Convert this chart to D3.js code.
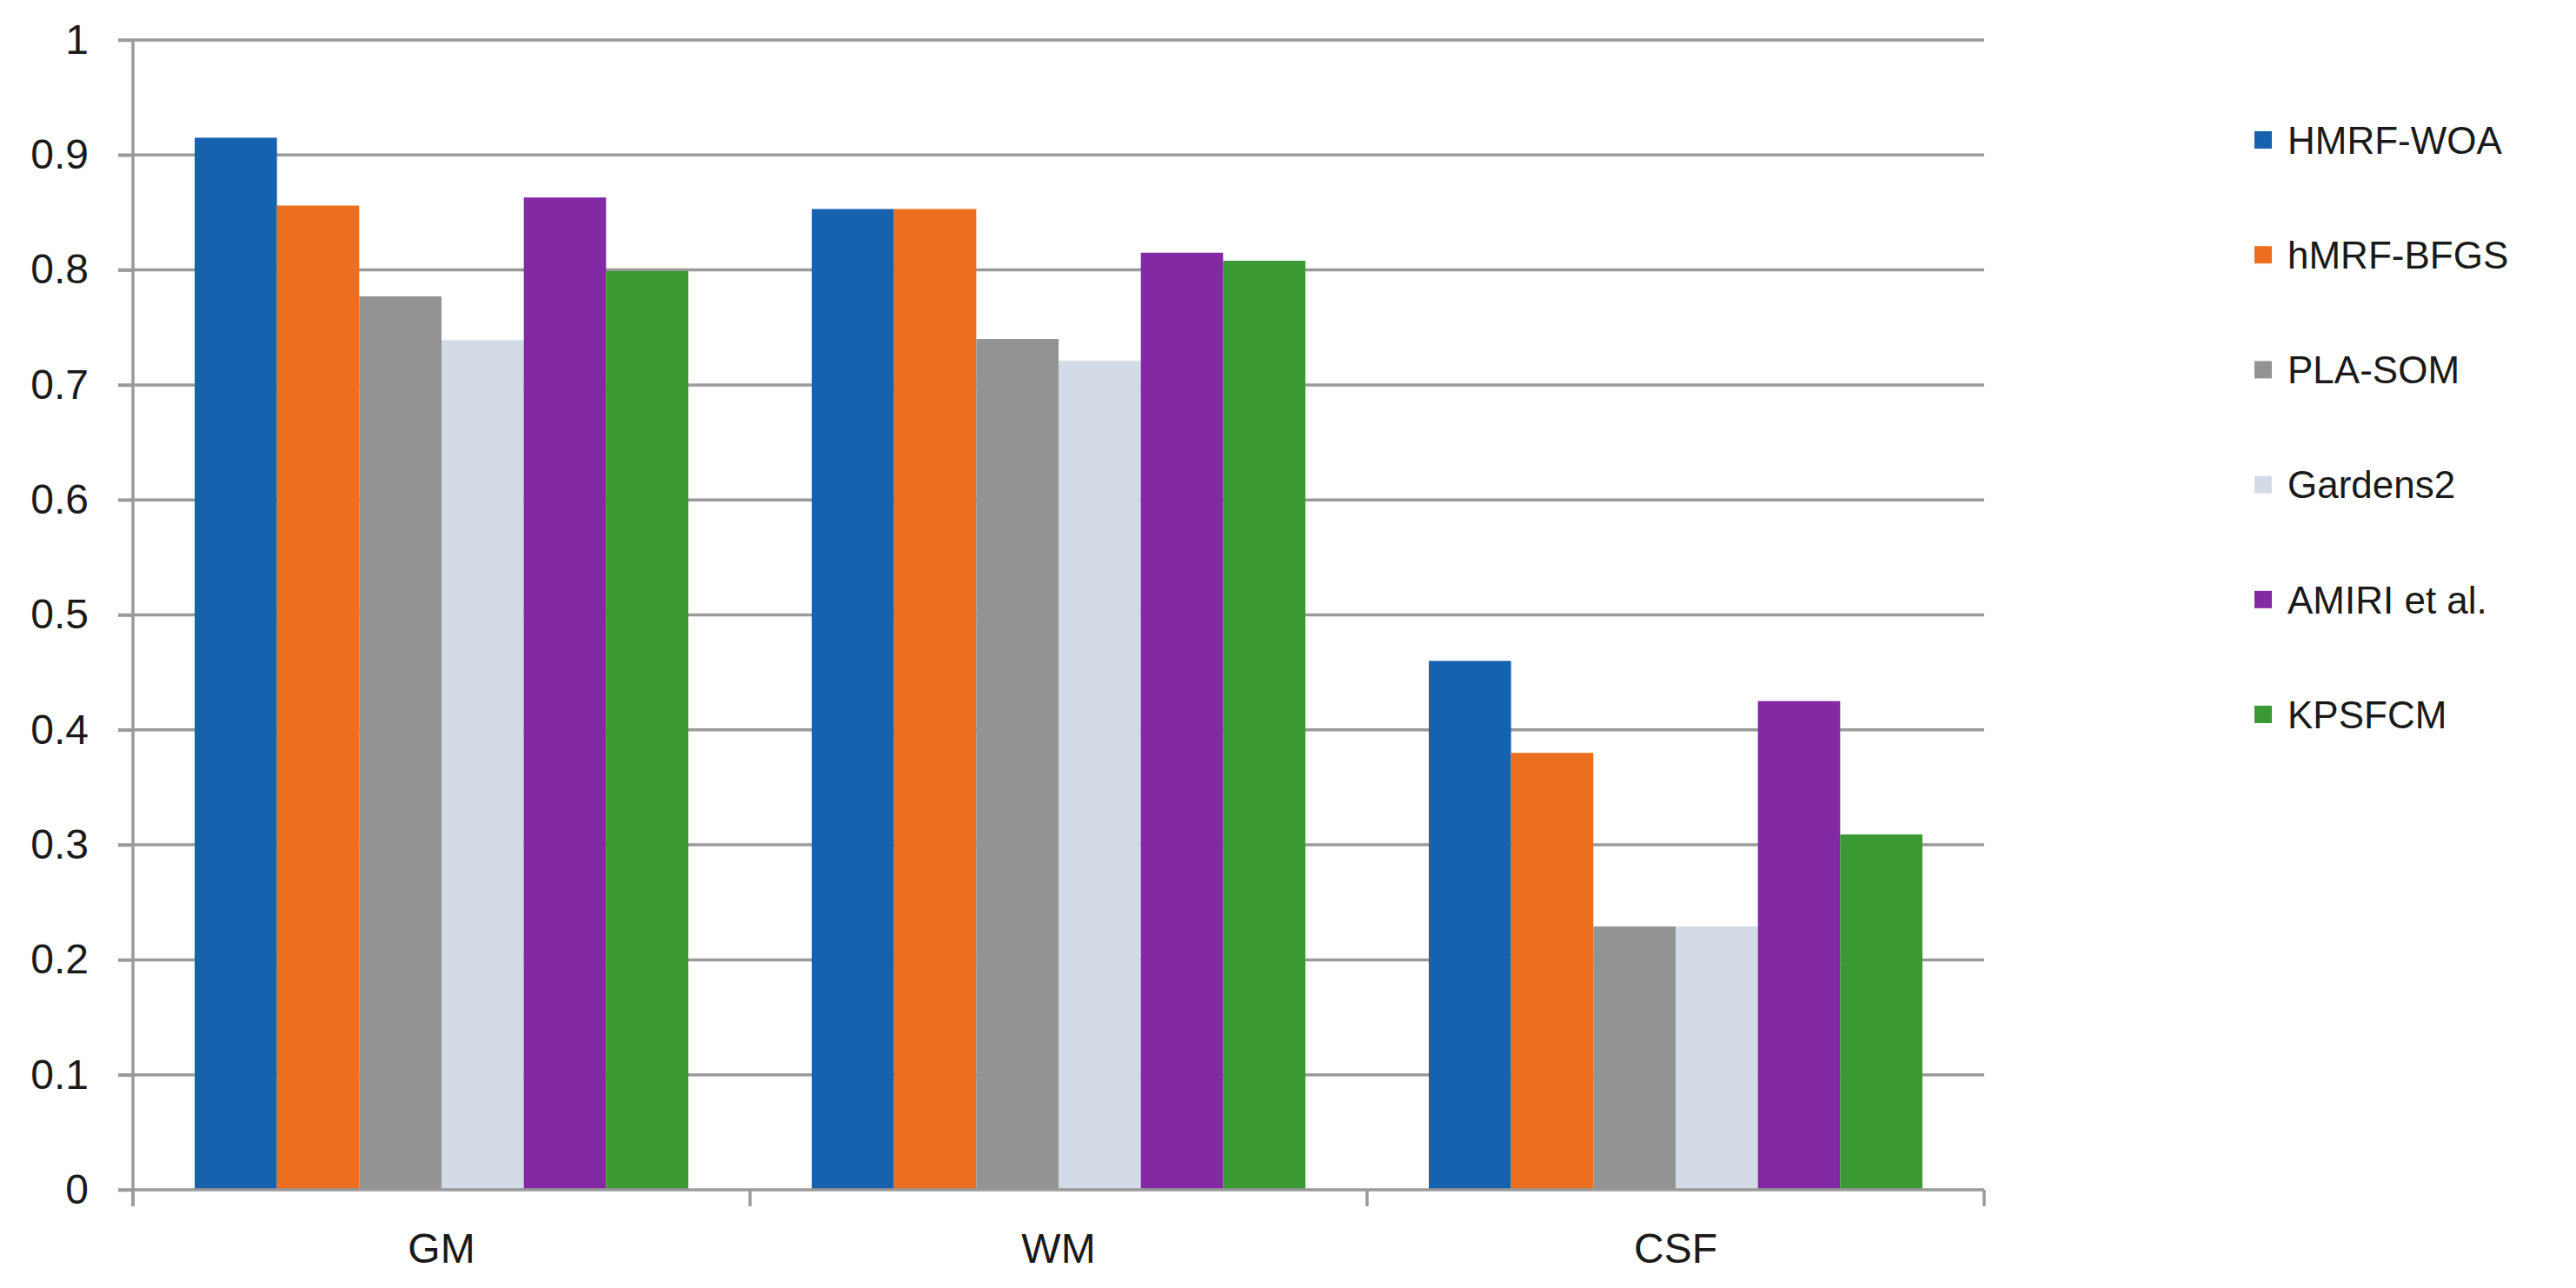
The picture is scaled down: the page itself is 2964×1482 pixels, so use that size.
<!DOCTYPE html>
<html>
<head>
<meta charset="utf-8">
<script src="https://cdn.jsdelivr.net/npm/d3@7"></script>
<style>
  html, body { margin: 0; padding: 0; background: #fff; }
  svg { display: block; }
  text { font-family: "Liberation Sans", Arial, sans-serif; fill: #1a1a1a; }
</style>
</head>
<body>
<svg id="chart" width="2964" height="1482"></svg>
<script>
const categories = ["GM", "WM", "CSF"];
const seriesNames = ["HMRF-WOA", "hMRF-BFGS", "PLA-SOM", "Gardens2", "AMIRI et al.", "KPSFCM"];
const seriesColors = ["#1762AE", "#EC6F1F", "#939393", "#D3DCE6", "#8229A3", "#3A9932"];
const hmrfWoa  = [0.915, 0.853, 0.46];
const hmrfBfgs = [0.856, 0.853, 0.38];
const plaSom   = [0.777, 0.74, 0.229];
const gardens2 = [0.739, 0.721, 0.229];
const amiri    = [0.863, 0.815, 0.425];
const kpsfcm   = [0.799, 0.808, 0.309];
const seriesValues = [hmrfWoa, hmrfBfgs, plaSom, gardens2, amiri, kpsfcm];
const yTicks = [0, 0.1, 0.2, 0.3, 0.4, 0.5, 0.6, 0.7, 0.8, 0.9, 1];

const svg = d3.select("#chart");
const pLeft = 153, pRight = 2283, pTop = 46, pBottom = 1369;
const gridColor = "#9a9a9a";

const x0 = d3.scaleBand().domain(categories).range([pLeft, pRight]).padding(0);
const x1 = d3.scaleBand().domain(seriesNames).range([0, x0.bandwidth()])
  .paddingInner(0).paddingOuter(0.75);
const y = d3.scaleLinear().domain([0, 1]).range([pBottom, pTop]);

// gridlines
svg.append("g").selectAll("line").data(yTicks.filter(d => d > 0)).join("line")
  .attr("x1", pLeft - 17).attr("x2", pRight)
  .attr("y1", d => y(d)).attr("y2", d => y(d))
  .attr("stroke", gridColor).attr("stroke-width", 3.5);

// bars
const data = [];
categories.forEach((c, ci) => {
  seriesNames.forEach((s, si) => {
    data.push({ cat: c, ser: s, v: seriesValues[si][ci], color: seriesColors[si] });
  });
});
svg.append("g").selectAll("rect").data(data).join("rect")
  .attr("x", d => x0(d.cat) + x1(d.ser))
  .attr("width", x1.bandwidth())
  .attr("y", d => y(d.v))
  .attr("height", d => y(0) - y(d.v))
  .attr("fill", d => d.color);

// y axis
const yAxis = d3.axisLeft(y).tickValues(yTicks).tickSize(17).tickPadding(34)
  .tickFormat(d => d3.format("~g")(d));
const gy = svg.append("g").attr("transform", `translate(${pLeft},0)`).call(yAxis);
gy.select(".domain").attr("stroke", gridColor).attr("stroke-width", 3.5)
  .attr("d", `M0,${pTop}V${pBottom + 19}`);
gy.selectAll(".tick line").attr("stroke", gridColor).attr("stroke-width", 3.5);
gy.selectAll(".tick text").attr("font-size", 48).attr("fill", "#1a1a1a")
  .attr("font-family", "Liberation Sans, Arial, sans-serif");

// x axis
const xAxis = d3.axisBottom(x0).tickSize(0).tickPadding(50);
const gx = svg.append("g").attr("transform", `translate(0,${pBottom})`).call(xAxis);
gx.select(".domain").attr("stroke", gridColor).attr("stroke-width", 3.5)
  .attr("d", `M${pLeft - 17},0H${pRight}`);
gx.selectAll(".tick text").attr("font-size", 48).attr("fill", "#1a1a1a")
  .attr("font-family", "Liberation Sans, Arial, sans-serif");
// category separator ticks
const sepTicks = categories.map(c => x0(c)).concat([pRight]);
svg.append("g").selectAll("line").data(sepTicks).join("line")
  .attr("x1", d => d).attr("x2", d => d)
  .attr("y1", pBottom).attr("y2", pBottom + 19)
  .attr("stroke", gridColor).attr("stroke-width", 3.5);

// legend
const legY = d3.scalePoint().domain(seriesNames).range([161, 822]);
const leg = svg.append("g").selectAll("g").data(seriesNames).join("g")
  .attr("transform", d => `translate(2594,${legY(d)})`);
leg.append("rect").attr("x", 0).attr("y", -10).attr("width", 20).attr("height", 20)
  .attr("fill", (d, i) => seriesColors[i]);
leg.append("text").attr("x", 38).attr("y", 0).attr("dy", "0.36em")
  .attr("font-size", 44).text(d => d);
</script>
</body>
</html>
